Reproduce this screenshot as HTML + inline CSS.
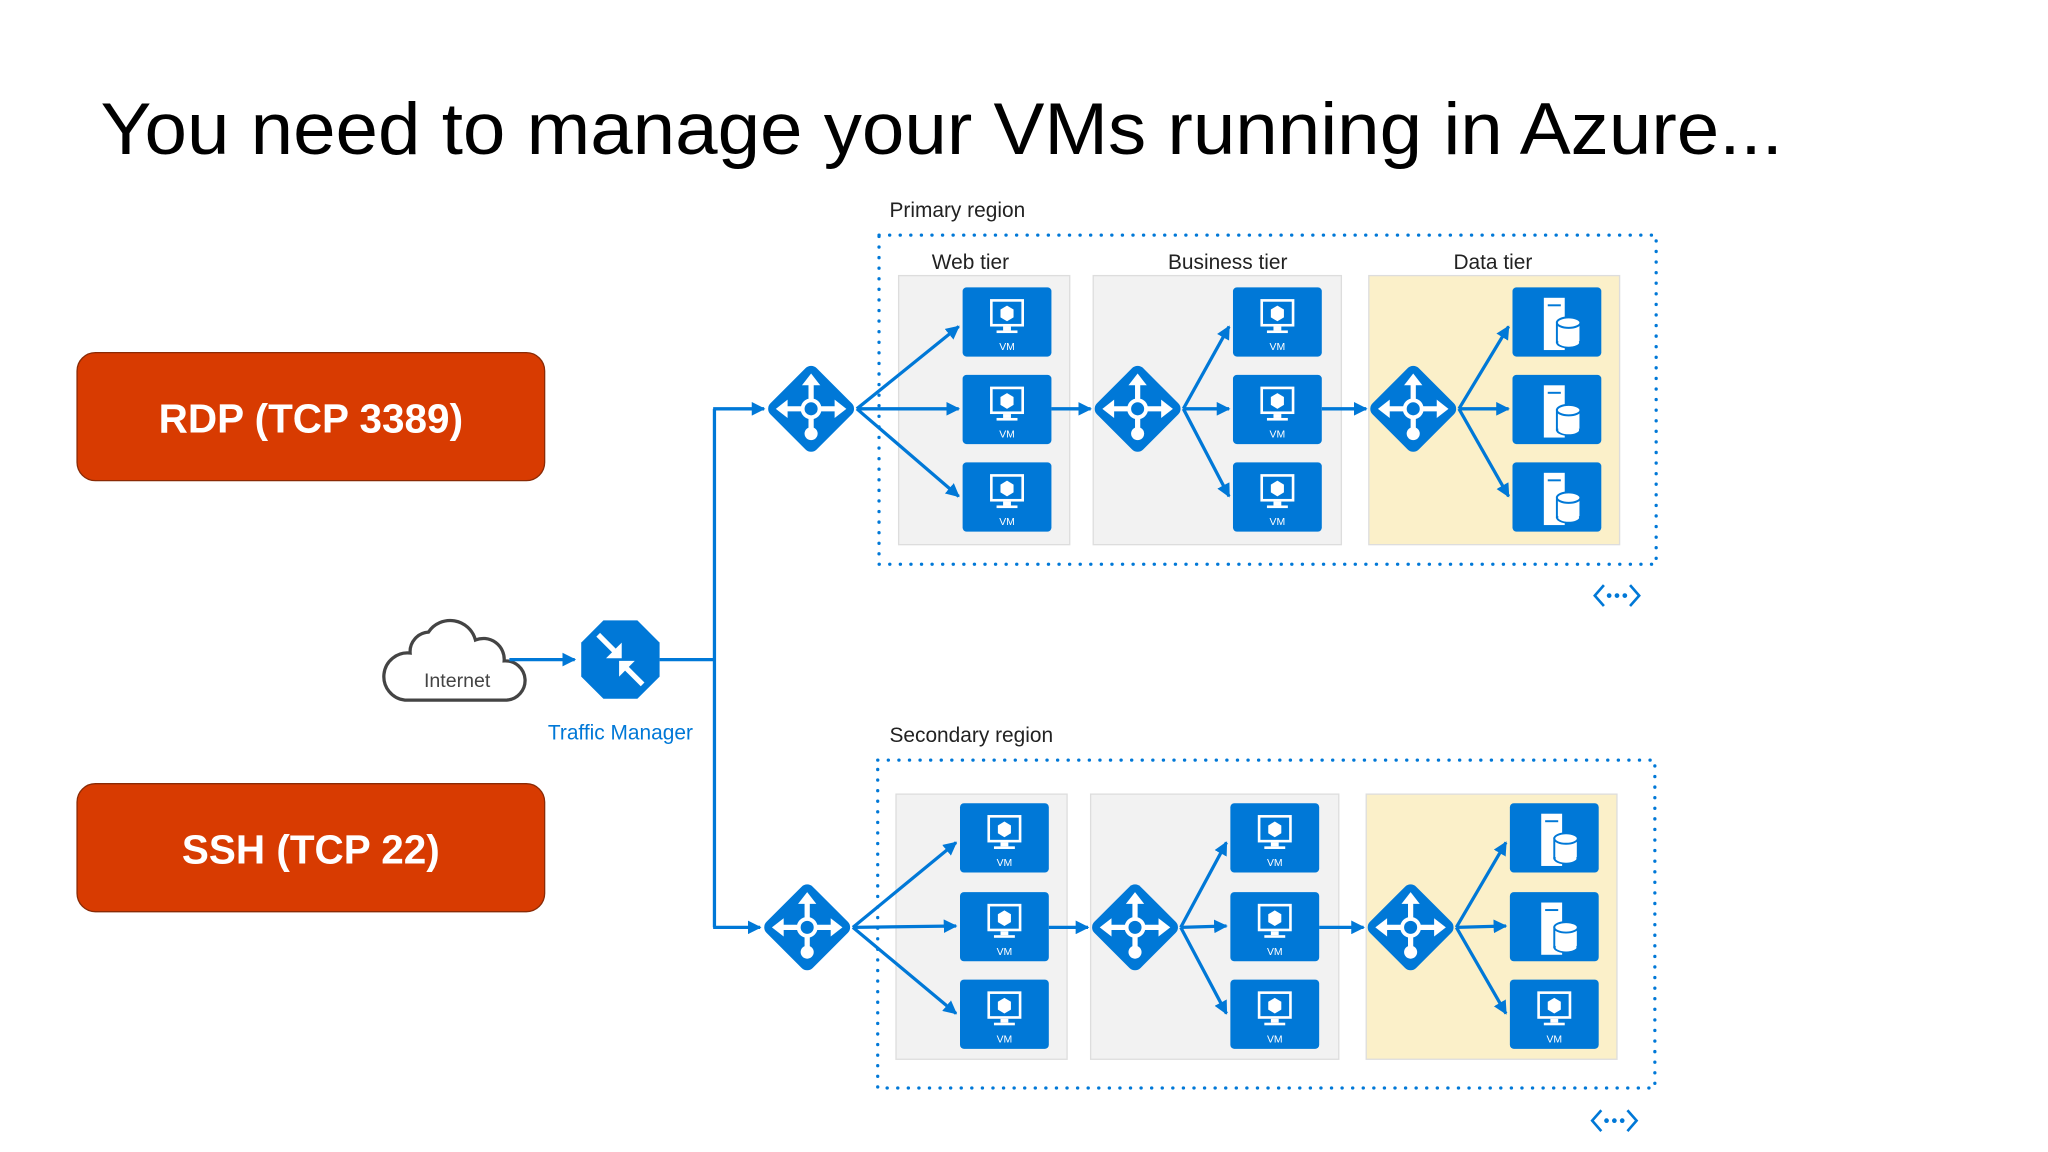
<!DOCTYPE html>
<html><head><meta charset="utf-8"><style>
html,body{margin:0;padding:0;background:#fff;width:2048px;height:1152px;overflow:hidden}
svg{display:block}
text{font-family:"Liberation Sans",sans-serif}
</style></head><body>
<svg id="s" width="2048" height="1152" viewBox="0 0 1568 882" xmlns="http://www.w3.org/2000/svg">
<defs>
<marker id="ah" viewBox="0 0 10 10" refX="9" refY="5" markerWidth="4.2" markerHeight="4.2" orient="auto"><path d="M0,0 L10,5 L0,10 z" fill="#0078D7"/></marker>
<g id="lb">
<rect x="-25" y="-25" width="50" height="50" rx="6" transform="rotate(45)" fill="#0078D7"/>
<g stroke="#fff" stroke-width="4" fill="none"><line x1="-22" y1="0" x2="22" y2="0"/><line x1="0" y1="-22" x2="0" y2="18"/></g>
<g fill="#fff"><path d="M-27,0 L-18,-7 L-18,7z"/><path d="M27,0 L18,-7 L18,7z"/><path d="M0,-27 L-7,-18 L7,-18z"/><circle cx="0" cy="0" r="8"/><circle cx="0" cy="19" r="5"/></g>
<circle cx="0" cy="0" r="5" fill="#0078D7"/>
</g>
<g id="vm">
<rect x="0" y="0" width="68" height="53" rx="3" fill="#0078D7"/>
<rect x="22" y="10" width="24" height="19" fill="none" stroke="#fff" stroke-width="2"/>
<path d="M34,14 l5,3 v6 l-5,3 l-5,-3 v-6z" fill="#fff"/>
<rect x="31" y="30" width="6" height="3" fill="#fff"/><rect x="26" y="33" width="16" height="2" fill="#fff"/>
<text x="34" y="48" font-size="8" fill="#fff" text-anchor="middle">VM</text>
</g>
<g id="db">
<rect x="0" y="0" width="68" height="53" rx="3" fill="#0078D7"/>
<rect x="24" y="8" width="16" height="40" fill="#fff"/>
<rect x="27" y="13" width="10" height="1.5" fill="#0078D7"/>
<ellipse cx="43" cy="42" rx="9" ry="4" fill="#fff" stroke="#0078D7" stroke-width="1.5"/>
<rect x="34" y="27" width="18" height="15" fill="#fff" stroke="#0078D7" stroke-width="1.5"/>
<rect x="35" y="28" width="16" height="13" fill="#fff"/>
<ellipse cx="43" cy="42" rx="8" ry="3.5" fill="#fff"/>
<ellipse cx="43" cy="27" rx="9" ry="4" fill="#fff" stroke="#0078D7" stroke-width="1.5"/>
</g>
<g id="vnet" fill="none" stroke="#0078D7" stroke-width="2"><path d="M-10,-8 L-17,0 L-10,8"/><path d="M10,-8 L17,0 L10,8"/><circle cx="-6" cy="0" r="1.8" fill="#0078D7" stroke="none"/><circle cx="0" cy="0" r="1.8" fill="#0078D7" stroke="none"/><circle cx="6" cy="0" r="1.8" fill="#0078D7" stroke="none"/></g>
</defs>

<text x="77" y="118" font-size="56" fill="#000" textLength="1288" lengthAdjust="spacingAndGlyphs">You need to manage your VMs running in Azure...</text>

<rect x="59" y="270" width="358" height="98" rx="14" fill="#D83B01" stroke="#8a2a05" stroke-width="1"/>
<text x="238" y="331" font-size="31" font-weight="bold" fill="#fff" text-anchor="middle">RDP (TCP 3389)</text>
<rect x="59" y="600" width="358" height="98" rx="14" fill="#D83B01" stroke="#8a2a05" stroke-width="1"/>
<text x="238" y="661" font-size="31" font-weight="bold" fill="#fff" text-anchor="middle">SSH (TCP 22)</text>

<path d="M310,536 h78 a14,14 0 0 0 -2,-30 a16,16 0 0 0 -22,-16 a20,20 0 0 0 -36,-6 a15,15 0 0 0 -14,16 a14,14 0 0 0 -4,36z" fill="#fff" stroke="#444" stroke-width="2.5"/>
<text x="350" y="526" font-size="15" fill="#444" text-anchor="middle">Internet</text>
<line x1="390" y1="505" x2="440" y2="505" stroke="#0078D7" stroke-width="2.5" marker-end="url(#ah)"/>
<path d="M462,475 h26 l17,17 v26 l-17,17 h-26 l-17,-17 v-26z" fill="#0078D7"/>
<g stroke="#fff" stroke-width="4"><line x1="458" y1="486" x2="472" y2="500"/><line x1="492" y1="524" x2="478" y2="510"/></g>
<path d="M476,504 l-12,0 l12,-12z" fill="#fff"/><path d="M474,506 l12,0 l-12,12z" fill="#fff"/>
<text x="475" y="566" font-size="16" fill="#0078D7" text-anchor="middle">Traffic Manager</text>
<polyline points="505,505 547,505" fill="none" stroke="#0078D7" stroke-width="2.5"/>
<line x1="547" y1="313" x2="547" y2="710" stroke="#0078D7" stroke-width="2.5"/>
<line x1="546" y1="313" x2="585" y2="313" stroke="#0078D7" stroke-width="2.5" marker-end="url(#ah)"/>
<line x1="546" y1="710" x2="582" y2="710" stroke="#0078D7" stroke-width="2.5" marker-end="url(#ah)"/>
<g id="regions"></g>
</svg>
<script>
var NS="http://www.w3.org/2000/svg",R=document.getElementById("regions");
function el(t,a,tx){var e=document.createElementNS(NS,t);for(var k in a)e.setAttribute(k,a[k]);if(tx)e.textContent=tx;R.appendChild(e);return e;}
function use(id,x,y){var e=el("use",{x:x,y:y});e.setAttributeNS("http://www.w3.org/1999/xlink","href","#"+id);e.setAttribute("href","#"+id);}
function arr(x1,y1,x2,y2){el("line",{x1:x1,y1:y1,x2:x2,y2:y2,stroke:"#0078D7","stroke-width":2.5,"marker-end":"url(#ah)"});}
function region(o){
 el("text",{x:681,y:o.y0-14,"font-size":16,fill:"#222"},o.name);
 el("rect",{x:o.rx,y:o.y0,width:o.rw,height:o.rh,fill:"none",stroke:"#0078D7","stroke-width":2.5,"stroke-dasharray":"0.1 8","stroke-linecap":"round"});
 var bx=o.bx;
 el("rect",{x:bx[0],y:o.by,width:131,height:o.bh,fill:"#f2f2f2",stroke:"#ddd"});
 el("rect",{x:bx[1],y:o.by,width:190,height:o.bh,fill:"#f2f2f2",stroke:"#ddd"});
 el("rect",{x:bx[2],y:o.by,width:192,height:o.bh,fill:"#FBF0C9",stroke:"#ddd"});
 if(o.labels){el("text",{x:743,y:o.by-5,"font-size":16,fill:"#222","text-anchor":"middle"},"Web tier");
 el("text",{x:940,y:o.by-5,"font-size":16,fill:"#222","text-anchor":"middle"},"Business tier");
 el("text",{x:1143,y:o.by-5,"font-size":16,fill:"#222","text-anchor":"middle"},"Data tier");}
 var ys=o.vy, cy=o.cy;
 for(var t=0;t<3;t++){
  var lx=o.lb[t], vx=o.vx[t];
  use("lb",lx,cy);
  for(var i=0;i<3;i++){
   arr(lx+35,cy,vx-3,ys[i]+26+(i==0?4:i==2?-0:0)-(i==0?0:0));
   use(o.kinds[t][i],vx,ys[i]);
  }
 }
 arr(o.vx[0]+68,cy,o.lb[1]-36,cy);
 arr(o.vx[1]+68,cy,o.lb[2]-36,cy);
 var g=el("use",{x:o.ix,y:o.iy});g.setAttribute("href","#vnet");
}
region({name:"Primary region",y0:180,rx:673,rw:595,rh:252,bx:[688,837,1048],by:211,bh:206,labels:true,
 cy:313,lb:[621,871,1082],vx:[737,944,1158],vy:[220,287,354],kinds:[["vm","vm","vm"],["vm","vm","vm"],["db","db","db"]],ix:1238,iy:456});
region({name:"Secondary region",y0:582,rx:672,rw:595,rh:251,bx:[686,835,1046],by:608,bh:203,labels:false,
 cy:710,lb:[618,869,1080],vx:[735,942,1156],vy:[615,683,750],kinds:[["vm","vm","vm"],["vm","vm","vm"],["db","db","vm"]],ix:1236,iy:858});
</script>
</body></html>
